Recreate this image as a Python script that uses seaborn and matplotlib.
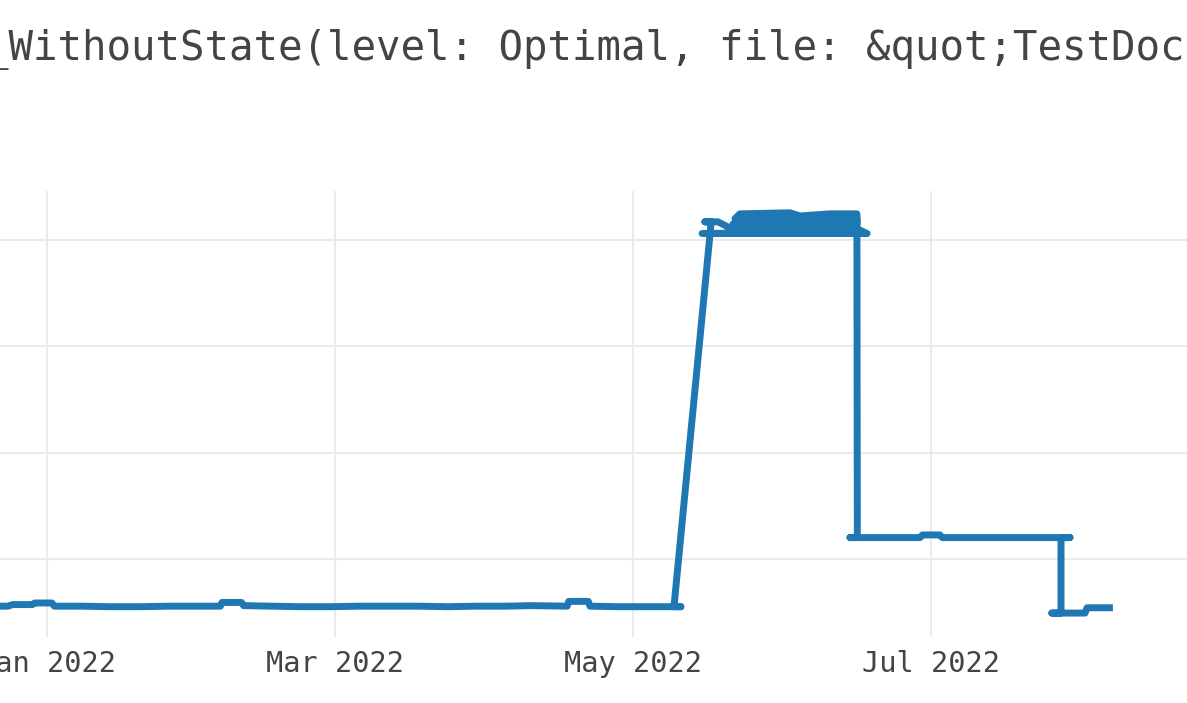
import matplotlib
matplotlib.use("Agg")
import matplotlib.pyplot as plt
import matplotlib.dates as mdates
import seaborn as sns
import pandas as pd

title = "Compress_WithoutState(level: Optimal, file: &quot;TestDocument.pdf&quot;)"

dates = [
    "2021-12-10", "2021-12-20", "2021-12-24", "2021-12-25", "2021-12-29",
    "2021-12-29 12:00", "2022-01-02", "2022-01-02 12:00", "2022-01-08", "2022-01-14",
    "2022-01-20", "2022-01-26", "2022-02-01", "2022-02-05 12:00", "2022-02-05 20:00",
    "2022-02-09 20:00", "2022-02-10 06:00", "2022-02-16", "2022-02-22", "2022-02-28",
    "2022-03-06", "2022-03-12", "2022-03-18", "2022-03-24", "2022-03-30",
    "2022-04-05", "2022-04-10", "2022-04-17 12:00", "2022-04-17 20:00", "2022-04-21 20:00",
    "2022-04-22 04:00", "2022-04-28", "2022-05-03", "2022-05-09", "2022-05-10 19:00",
    "2022-05-09 09:00",
    "2022-05-17 00:00", "2022-05-15 17:00", "2022-05-18 09:00", "2022-05-22 21:00",
    "2022-05-15 03:00", "2022-06-17 22:00", "2022-06-15 20:00", "2022-05-21 11:00",
    "2022-05-21 11:00", "2022-06-15 20:00", "2022-06-15 20:00", "2022-05-21 21:00",
    "2022-05-22 21:00", "2022-06-02 03:00", "2022-06-04 04:00", "2022-06-10 07:00",
    "2022-06-15 20:00", "2022-06-15 20:00", "2022-06-15 22:00",
    "2022-06-14 10:00", "2022-06-28 18:00", "2022-06-29 06:00", "2022-07-02 20:00",
    "2022-07-03 08:00", "2022-07-15", "2022-07-29 11:00", "2022-07-27 15:00",
    "2022-07-27 15:00", "2022-07-25 18:00", "2022-08-01 13:00", "2022-08-01 23:00",
    "2022-08-07 06:00",
]
values = [
    111, 111, 111, 114, 114,
    117, 117, 111, 111, 110,
    110, 111, 111, 111, 118,
    118, 112, 111, 110, 110,
    111, 111, 111, 110, 111,
    111, 112, 111, 120, 120,
    111, 110, 110, 110, 110,
    110,
    834, 834, 834, 813,
    812, 812, 821, 821,
    830, 830, 840, 840,
    849, 851, 845, 849,
    849, 828, 240,
    240, 240, 245, 245,
    240, 240, 240, 240,
    98, 98, 98, 108,
    108,
]

sns.set_theme(style="white")
plt.rcParams['font.family'] = ['DejaVu Sans Mono', 'DejaVu Sans']

W, H = 1187, 703
fig = plt.figure(figsize=(W / 100, H / 100), dpi=100)
fig.patch.set_facecolor("white")
ax = fig.add_axes([-104.4 / W, 66 / H, 1304.0 / W, 446 / H])

df = pd.DataFrame({"date": pd.to_datetime(dates, format="mixed"), "value": values})
sns.lineplot(data=df, x="date", y="value", sort=False, estimator=None,
             color="#1f77b4", linewidth=5.0, ax=ax)
for ln in ax.lines:
    ln.set_solid_joinstyle("round")
    ln.set_solid_capstyle("butt")

ax.set_xlim(pd.Timestamp("2021-12-01"), pd.Timestamp("2022-08-25"))
ax.set_ylim(53, 892)
ax.set_yticks([200, 400, 600, 800])
ax.xaxis.set_major_locator(mdates.MonthLocator(bymonth=[1, 3, 5, 7, 9, 11]))
ax.xaxis.set_major_formatter(mdates.DateFormatter("%b %Y"))
ax.grid(True, color="#ebebeb", linewidth=1.5)
ax.set_axisbelow(True)
for s in ax.spines.values():
    s.set_visible(False)
ax.tick_params(axis="x", length=0, pad=9.4, labelsize=20.6, labelcolor="#444444")
ax.tick_params(axis="y", length=0, labelsize=20.6, labelcolor="#444444")
ax.set_xlabel("")
ax.set_ylabel("")

fig.text(-212 / W, (H - 60) / H, title, fontsize=29.3, color="#444444",
         ha="left", va="baseline", family=["DejaVu Sans Mono", "DejaVu Sans"])

fig.savefig("out.png", dpi=100, facecolor="white")
